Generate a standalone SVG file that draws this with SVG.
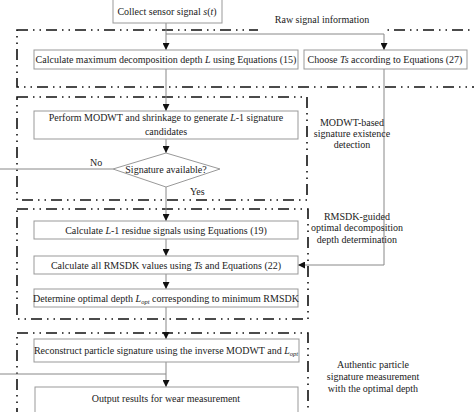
<svg xmlns="http://www.w3.org/2000/svg" width="474" height="412" viewBox="0 0 474 412">
<defs>
<marker id="ah" viewBox="0 0 10 10" refX="10" refY="5" markerWidth="7" markerHeight="7" markerUnits="userSpaceOnUse" orient="auto">
<path d="M0,0 L10,5 L0,10 z" fill="#111"/>
</marker>
<style>
text{font-family:"Liberation Serif","Times New Roman",serif;font-size:10px;fill:#222}
.box{fill:#fff;stroke:#999;stroke-width:1}
.reg{fill:none;stroke:#111;stroke-width:1.6;stroke-dasharray:11 5 1.5 5 1.5 5}
.ln{fill:none;stroke:#888;stroke-width:1}
.c{text-anchor:middle}
</style>
</defs>
<rect width="474" height="412" fill="#fff"/>
<g id="regions">
<rect class="reg" x="17" y="30" width="480" height="57"/>
<rect x="258" y="24" width="126" height="10" fill="#fff"/>
<rect class="reg" x="17" y="97" width="290" height="103"/>
<rect class="reg" x="17" y="209" width="291" height="110"/>
<rect class="reg" x="17" y="333" width="291" height="100"/>
</g>
<g id="connectors">
<line class="ln" x1="166" y1="23" x2="166" y2="50" marker-end="url(#ah)"/>
<polyline class="ln" points="166,34 384,34 384,50" marker-end="url(#ah)"/>
<line class="ln" x1="166" y1="69" x2="166" y2="111" marker-end="url(#ah)"/>
<line class="ln" x1="166" y1="139" x2="166" y2="153" marker-end="url(#ah)"/>
<line class="ln" x1="113" y1="169" x2="0" y2="169"/>
<line class="ln" x1="166" y1="187" x2="166" y2="221" marker-end="url(#ah)"/>
<line class="ln" x1="166" y1="239" x2="166" y2="256" marker-end="url(#ah)"/>
<polyline class="ln" points="384,69 384,265 298,265" marker-end="url(#ah)"/>
<line class="ln" x1="166" y1="274" x2="166" y2="289" marker-end="url(#ah)"/>
<line class="ln" x1="166" y1="307" x2="166" y2="339" marker-end="url(#ah)"/>
<line class="ln" x1="166" y1="362" x2="166" y2="387" marker-end="url(#ah)"/>
<line class="ln" x1="0" y1="374" x2="166" y2="374"/>
</g>
<g id="n-collect">
<rect class="box" x="113" y="-1" width="109" height="24"/>
<text class="c" x="167" y="15">Collect sensor signal <tspan font-style="italic">s</tspan>(<tspan font-style="italic">t</tspan>)</text>
</g>
<g id="n-maxdepth">
<rect class="box" x="34" y="50" width="264" height="19"/>
<text class="c" x="166" y="63">Calculate maximum decomposition depth  <tspan font-style="italic">L</tspan> using Equations (15)</text>
</g>
<g id="n-ts">
<rect class="box" x="304" y="50" width="163" height="19"/>
<text class="c" x="385" y="63">Choose <tspan font-style="italic">Ts</tspan> according to Equations (27)</text>
</g>
<g id="n-modwt">
<rect class="box" x="34" y="111" width="264" height="28"/>
<text class="c" x="166" y="121">Perform MODWT and shrinkage to generate  <tspan font-style="italic">L</tspan>-1 signature</text>
<text class="c" x="166" y="135">candidates</text>
</g>
<g id="n-decision">
<polygon points="166,153 220,169 166,187 113,169" fill="#fff" stroke="#999" stroke-width="1"/>
<text class="c" x="166" y="173">Signature available?</text>
</g>
<text x="90" y="166">No</text>
<text x="190" y="195">Yes</text>
<g id="n-residue">
<rect class="box" x="34" y="221" width="264" height="18"/>
<text class="c" x="166" y="234">Calculate <tspan font-style="italic">L</tspan>-1 residue signals using Equations (19)</text>
</g>
<g id="n-rmsdk">
<rect class="box" x="34" y="256" width="264" height="18"/>
<text class="c" x="166" y="269">Calculate all RMSDK values  using  <tspan font-style="italic">Ts</tspan> and Equations  (22)</text>
</g>
<g id="n-determine">
<rect class="box" x="34" y="289" width="264" height="18"/>
<text class="c" x="166" y="302">Determine optimal depth <tspan font-style="italic">L</tspan><tspan font-size="6.5" font-style="italic" dy="2">opt</tspan><tspan dy="-2"> corresponding to minimum RMSDK</tspan></text>
</g>
<g id="n-reconstruct">
<rect class="box" x="34" y="339" width="265" height="23"/>
<text class="c" x="166" y="354">Reconstruct particle signature using the inverse MODWT and <tspan font-style="italic">L</tspan><tspan font-size="6.5" font-style="italic" dy="2">opt</tspan></text>
</g>
<g id="n-output">
<rect class="box" x="35" y="387" width="263" height="40"/>
<text class="c" x="166" y="402">Output results for wear measurement</text>
</g>
<g id="labels">
<text class="c" x="322" y="23">Raw signal information</text>
<text class="c" x="352" y="126">MODWT-based</text>
<text class="c" x="352" y="137">signature existence</text>
<text class="c" x="352" y="148">detection</text>
<text class="c" x="357" y="220">RMSDK-guided</text>
<text class="c" x="357" y="231">optimal decomposition</text>
<text class="c" x="357" y="243">depth determination</text>
<text class="c" x="373" y="368">Authentic particle</text>
<text class="c" x="373" y="380">signature measurement</text>
<text class="c" x="373" y="392">with the optimal depth</text>
</g>
</svg>
